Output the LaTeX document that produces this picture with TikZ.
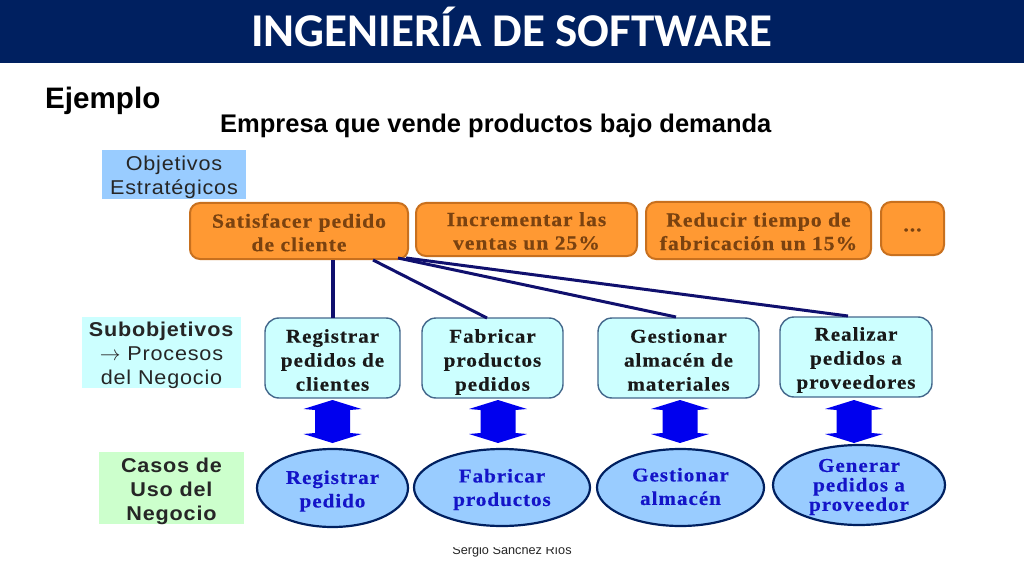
\documentclass[tikz,border=0pt]{standalone}
\usepackage{fontspec}
\usetikzlibrary{shapes.geometric}
\setmainfont{Liberation Serif}
\setsansfont{Liberation Sans}
\newfontfamily\carl{Carlito}
\newfontfamily\srf[LetterSpace=5,FakeStretch=1.08,BoldFeatures={FakeBold=0.4}]{Liberation Serif}
\newfontfamily\snf[LetterSpace=4,FakeStretch=1.08]{Liberation Sans}
\definecolor{navy}{HTML}{002060}
\definecolor{lineblue}{HTML}{10106E}
\definecolor{orangefill}{HTML}{FF9933}
\definecolor{orangeline}{HTML}{C8701E}
\definecolor{brownt}{HTML}{7A4210}
\definecolor{cyanfill}{HTML}{CCFFFF}
\definecolor{cyanline}{HTML}{44688C}
\definecolor{bluefill}{HTML}{99CCFF}
\definecolor{greenfill}{HTML}{CCFFCC}
\definecolor{elltext}{HTML}{1414C8}
\definecolor{arrowblue}{HTML}{0000EE}
\tikzset{
 x=1pt,y=-1pt,
 plainbox/.style={inner sep=0pt},
 labt/.style={inner sep=0pt,align=center,yshift=-2.5pt,font=\snf\fontsize{20}{24}\selectfont,text=black!85},
 labtb/.style={labt,yshift=-1pt,font=\snf\bfseries\fontsize{20}{24}\selectfont},
 obj/.style={draw=orangeline,line width=2pt,fill=orangefill,rounded corners=10pt,inner sep=0pt},
 objt/.style={inner sep=0pt,align=center,text=brownt,yshift=-1.5pt,font=\srf\bfseries\fontsize{20}{23.5}\selectfont},
 sub/.style={draw=cyanline,line width=1.4pt,fill=cyanfill,rounded corners=14pt,inner sep=0pt},
 subt/.style={inner sep=0pt,align=center,text=black!90,yshift=-2pt,font=\srf\bfseries\fontsize{19.5}{24}\selectfont},
 uc/.style={draw=navy,line width=2.2pt,fill=bluefill,ellipse,inner sep=0pt},
 uct/.style={inner sep=0pt,align=center,text=elltext,font=\srf\bfseries\fontsize{19.5}{23.5}\selectfont},
 conn/.style={draw=lineblue,line width=3pt},
 dbl/.style={fill=arrowblue,draw=none},
}
% name, shape style, x1, y1, x2, y2, text style, text
\newcommand{\boxnode}[8]{%
 \node[#2,minimum width=\dimexpr#5pt-#3pt\relax,minimum height=\dimexpr#6pt-#4pt\relax] (#1) at ({(#3+#5)/2},{(#4+#6)/2}) {};
 \node[#7] (#1t) at (#1.center) {#8};}
\newcommand{\dblarrow}[2]{%
 \fill[dbl] (#1,#2) -- ++(29,9) -- ++(-11.5,1) -- ++(0,23) -- ++(11.5,1) -- ++(-29,9) -- ++(-29,-9) -- ++(11.5,-1) -- ++(0,-23) -- ++(-11.5,-1) -- cycle;}
\begin{document}
\begin{tikzpicture}
\useasboundingbox (0,0) rectangle (1024,577);
\fill[white] (0,0) rectangle (1024,577);
\node[font=\sffamily\fontsize{12.7}{15}\selectfont,text=black!85] (foot) at (512,551) {Sergio Sánchez Ríos};
\fill[white] (400,527) rectangle (640,547);
\fill[navy] (0,0) rectangle (1024,63);
\node[anchor=base,inner sep=0pt,font=\carl\bfseries\fontsize{47}{50}\selectfont,text=white] (title) at (512,46.5) {INGENIERÍA DE SOFTWARE};
\node[anchor=base west,inner sep=0pt,font=\sffamily\bfseries\fontsize{29.6}{34}\selectfont] (ej) at (45,109) {Ejemplo};
\node[anchor=base west,inner sep=0pt,font=\sffamily\bfseries\fontsize{25.5}{30}\selectfont] (emp) at (220,133) {Empresa que vende productos bajo demanda};
\boxnode{l1}{plainbox,fill=bluefill}{102}{150}{246}{199}{labt}{Objetivos\\Estratégicos}
\boxnode{l2}{plainbox,fill=cyanfill}{82}{317}{241}{388}{labt}{\textbf{Subobjetivos}\\$\rightarrow$ Procesos\\del Negocio}
\boxnode{l3}{plainbox,fill=greenfill}{99}{452}{244}{524}{labtb}{Casos de\\Uso del\\Negocio}
\boxnode{o1}{obj}{190}{203}{408}{259}{objt}{Satisfacer pedido\\de cliente}
\boxnode{o2}{obj}{416}{203}{637}{256}{objt}{Incrementar las\\ventas un 25\%}
\boxnode{o3}{obj}{646}{202}{871}{259}{objt,yshift=0.5pt}{Reducir tiempo de\\fabricación un 15\%}
\boxnode{o4}{obj}{881}{202}{944}{255}{objt}{...}
\boxnode{s1}{sub}{265}{318}{400}{398}{subt}{Registrar\\pedidos de\\clientes}
\boxnode{s2}{sub}{422}{318}{563}{398}{subt,yshift=-2pt}{Fabricar\\productos\\pedidos}
\boxnode{s3}{sub}{598}{318}{759}{398}{subt}{Gestionar\\almacén de\\materiales}
\boxnode{s4}{sub}{780}{317}{932}{397}{subt,yshift=-1pt}{Realizar\\pedidos a\\proveedores}
\coordinate (c1a) at (333,260); \coordinate (c2a) at (373,260); \coordinate (c3a) at (398,258); \coordinate (c4a) at (406,258);
\coordinate (c1b) at (333,318); \coordinate (c2b) at (487,318); \coordinate (c3b) at (676,317); \coordinate (c4b) at (848,316);
\draw[conn,line width=4pt] (c1a) -- (c1b);
\draw[conn] (c2a) -- (c2b);
\draw[conn] (c3a) -- (c3b);
\draw[conn] (c4a) -- (c4b);
\dblarrow{332.5}{400}
\dblarrow{498}{400}
\dblarrow{680}{400}
\dblarrow{854}{400}
\boxnode{u1}{uc}{257}{449}{408}{527}{uct,yshift=-3pt}{Registrar\\pedido}
\boxnode{u2}{uc}{414}{449}{590}{526}{uct,yshift=-2pt}{Fabricar\\productos}
\boxnode{u3}{uc}{597}{449}{764}{526}{uct,yshift=1pt}{Gestionar\\almacén}
\boxnode{u4}{uc}{773}{445}{945}{525}{uct,font=\srf\bfseries\fontsize{19.5}{19.5}\selectfont,yshift=-2pt}{Generar\\pedidos a\\proveedor}
\end{tikzpicture}
\end{document}
